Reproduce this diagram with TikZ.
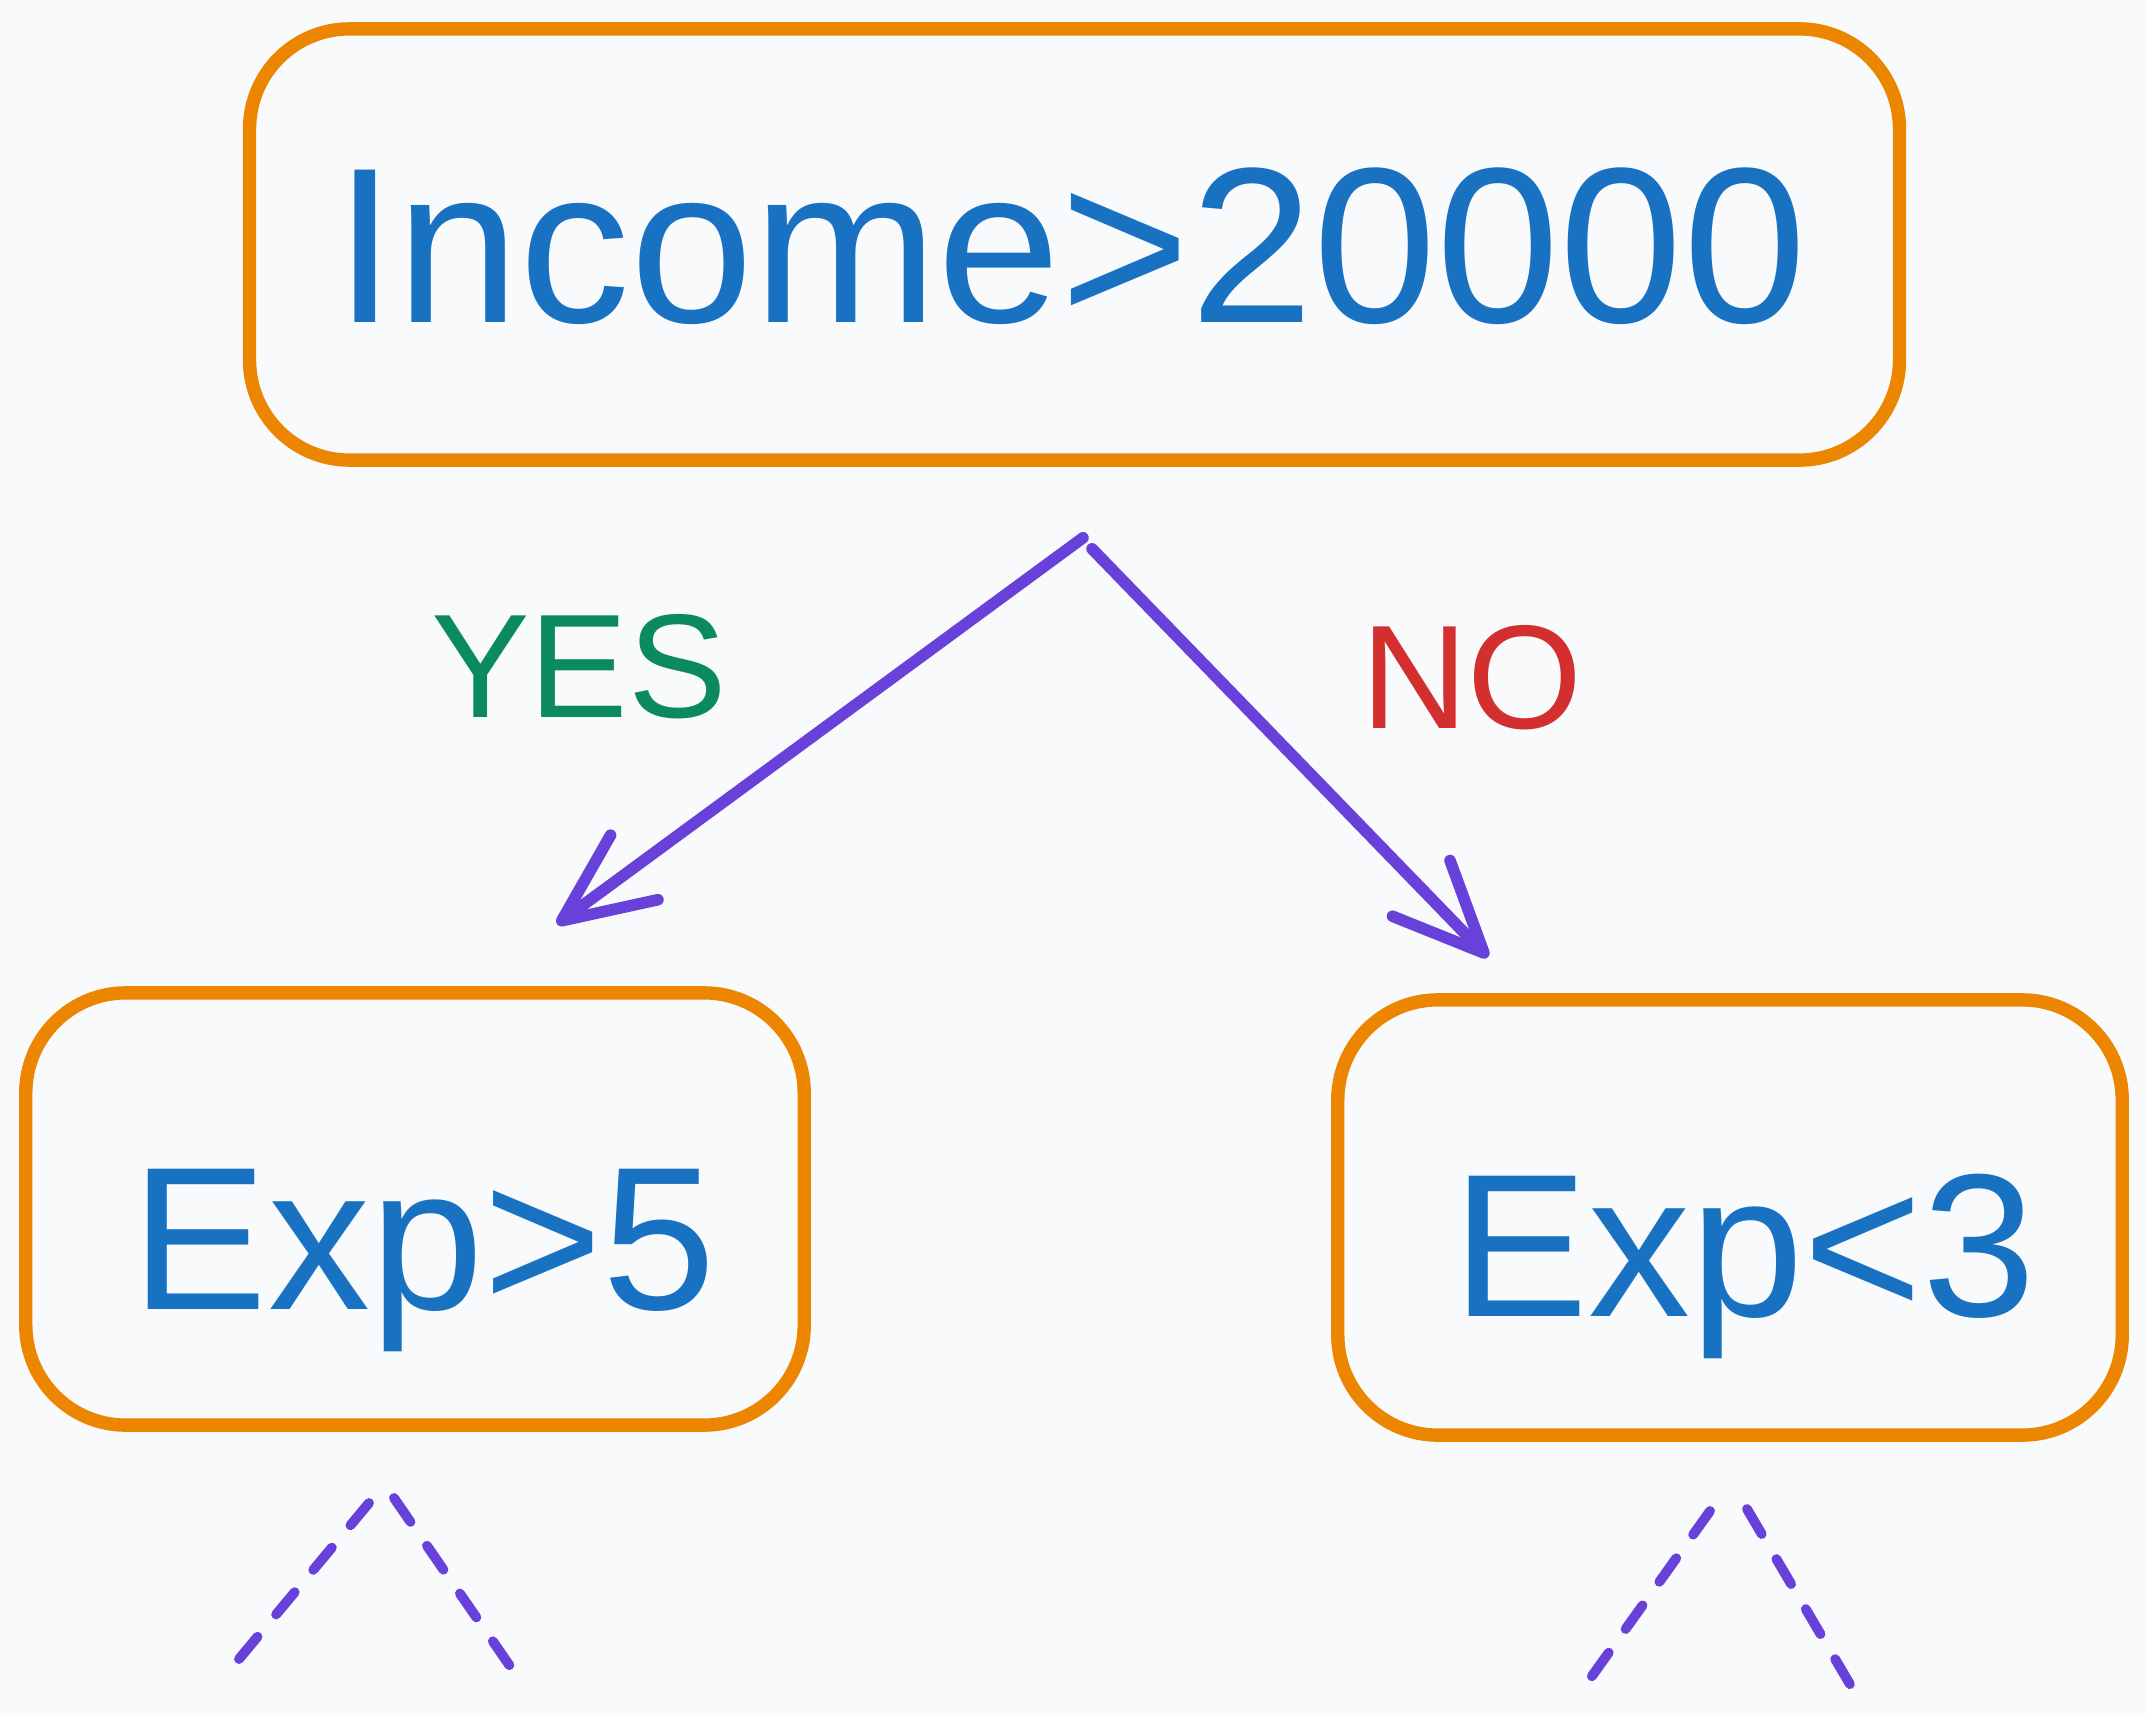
\documentclass[tikz,border=0pt]{standalone}
\usepackage{fontspec}
\setmainfont{Liberation Sans}
\usetikzlibrary{arrows.meta,calc}
\definecolor{bgc}{HTML}{F9FAFC}
\definecolor{boxorange}{HTML}{EC8500}
\definecolor{txtblue}{HTML}{1971C2}
\definecolor{yesgreen}{HTML}{0B8A62}
\definecolor{nored}{HTML}{D32F2F}
\definecolor{arrowpurple}{HTML}{6741D9}
\begin{document}
\begin{tikzpicture}[x=0.01cm,y=-0.01cm,
  box/.style={draw=boxorange, line width=3.8pt, rounded corners=1.0cm, inner sep=0pt},
  boxtext/.style={text=txtblue, inner sep=0pt, anchor=base},
  flow/.style={draw=arrowpurple, line width=3.3pt, line cap=round, line join=round,
    -{Straight Barb[length=0.9cm,width=0.8cm,round]}},
  subtree/.style={draw=arrowpurple, line width=2.8pt, line cap=round,
    dash pattern=on 0.29cm off 0.29cm},
  lbl/.style={inner sep=0pt, text depth=0pt, font=\fontsize{42}{46}\selectfont}]
\fill[bgc] (0,0) rectangle (2145,1715);
\useasboundingbox (0,0) rectangle (2145,1715);

\node[box, minimum width=16.49cm, minimum height=4.31cm] (income) at (1074.5,244.5) {};
\node[box, minimum width=7.78cm, minimum height=4.32cm] (exp5) at (415,1209) {};
\node[box, minimum width=7.84cm, minimum height=4.35cm] (exp3) at (1730,1217.5) {};

\node[boxtext, font=\fontsize{63}{70}\selectfont] (incomet)
  at ($(income.center)+(-4,78)$) {Income>20000};
\node[boxtext, font=\fontsize{58}{64}\selectfont] (exp5t)
  at ($(exp5.center)+(9,100)$) {Exp>5};
\node[boxtext, font=\fontsize{58}{64}\selectfont] (exp3t)
  at ($(exp3.center)+(14,99)$) {Exp<3};

\coordinate (forkL) at ($(income.south)+(8.5,71)$);
\coordinate (forkR) at ($(income.south)+(17.5,82)$);
\coordinate (tipL) at ($(exp5.north)+(142,-62)$);
\coordinate (tipR) at ($(exp3.north)+(-242,-36)$);
\draw[flow] (forkL) -- (tipL);
\draw[flow] (forkR) -- (tipR);

\node[lbl, text=yesgreen] (yes) at (579,666) {YES};
\node[lbl, text=nored] (no) at (1472,677) {NO};

\coordinate (d1a) at (369,1503);
\coordinate (d1b) at (234,1665);
\coordinate (d2a) at (394,1498);
\coordinate (d2b) at (512,1669);
\coordinate (d3a) at (1710,1511);
\coordinate (d3b) at (1587,1683);
\coordinate (d4a) at (1747,1509);
\coordinate (d4b) at (1851,1686);
\draw[subtree] (d1a) -- (d1b);
\draw[subtree] (d2a) -- (d2b);
\draw[subtree] (d3a) -- (d3b);
\draw[subtree] (d4a) -- (d4b);
\end{tikzpicture}
\end{document}
